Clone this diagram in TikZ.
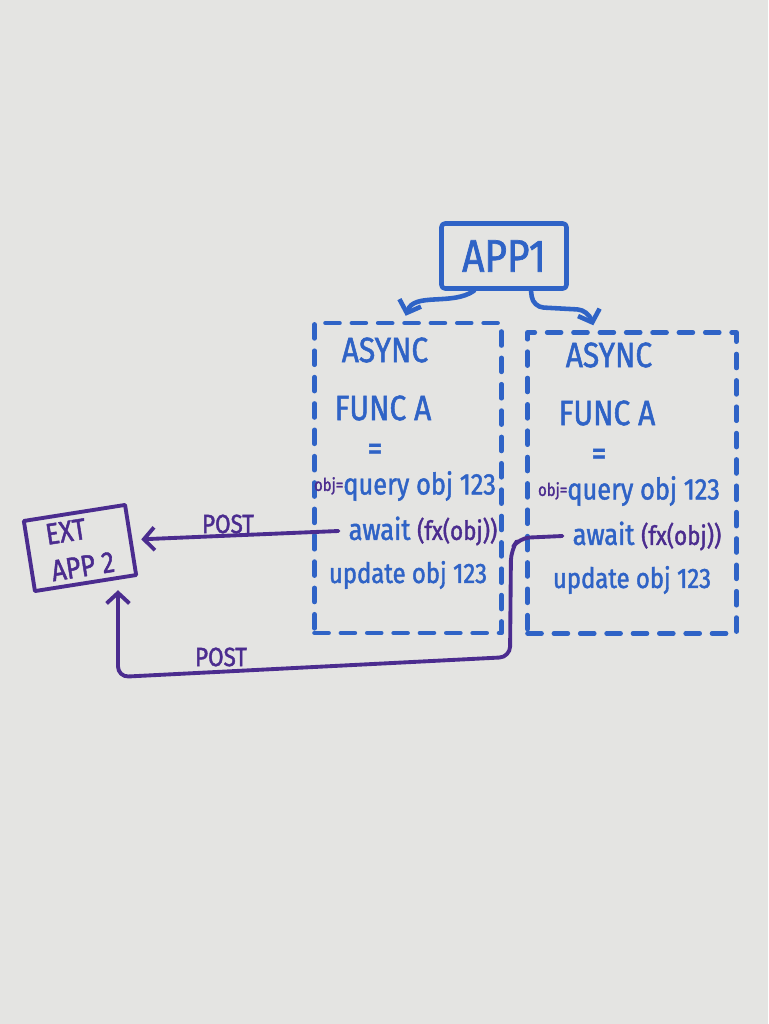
\documentclass[tikz,border=0pt]{standalone}
\usepackage{fontspec}
\setmainfont{Fira Sans}[FakeStretch=0.85, FakeBold=1.5]
\usetikzlibrary{positioning,arrows.meta}
\definecolor{board}{HTML}{E4E4E2}
\definecolor{bluemark}{HTML}{2F63C6}
\definecolor{purplemark}{HTML}{4B2C8F}
\tikzset{
	bluepen/.style={draw=bluemark, line width=2.6pt, line cap=round, line join=round},
	purplepen/.style={draw=purplemark, line width=2.2pt, line cap=round, line join=round},
	funcbox/.style={bluepen, dash pattern=on 8pt off 7pt},
	bluetext/.style={text=bluemark, inner sep=0pt},
	purpletext/.style={text=purplemark, inner sep=0pt},
	barb/.style={-{Straight Barb[length=6pt,width=13pt]}},
}
\begin{document}
\begin{tikzpicture}[x=0.02cm, y=-0.02cm]
			\useasboundingbox[fill=board] (0,0) rectangle (768,1024);
			%
			\node (app) [bluepen, draw, rounded corners=2pt, minimum width=2.5cm, minimum height=1.3cm] at (504,256) {};
			\node (applbl) [bluetext, font=\fontsize{26}{28}\selectfont] at (app) {APP1};
			\foreach \k/\x/\y/\w/\h in {1/408/478/3.74/6.2, 2/632/483/4.18/6.02}{
					\node (fa\k) [funcbox, minimum width=\w cm, minimum height=\h cm] at (\x,\y) {};
					\node (async\k) [bluetext, font=\fontsize{20}{22}\selectfont] at (\x-23,\y-128) {ASYNC};
					\node (func\k) [bluetext, font=\fontsize{20}{22}\selectfont] at (\x-25,\y-70) {FUNC A};
					\node (eq\k) [bluetext, font=\fontsize{20}{22}\selectfont] at (\x-33,\y-26) {=};
					\node (query\k) [bluetext, font=\fontsize{17}{18}\selectfont] at (\x-3,\y+8)
						{\raisebox{0.12em}{\textcolor{purplemark}{\fontsize{10}{11}\selectfont obj=}}query obj 123};
					\node (await\k) [bluetext, font=\fontsize{17}{18}\selectfont] at (\x+15,\y+53)
						{await \textcolor{purplemark}{\fontsize{15}{16}\selectfont(fx(obj))}};
					\node (update\k) [bluetext, font=\fontsize{16}{18}\selectfont] at (\x,\y+97) {update obj 123};
				}
			\draw [bluepen, barb, shorten >=3pt] (app.south -| 474,0) .. controls (452,306) and (414,292) .. (fa1.north -| 404,0);
			\draw [bluepen, barb, rounded corners=6pt, shorten >=3pt] (app.south -| 531,0) -- (533,307) -- (588,310) -- (fa2.north -| 595,0);
			%
			\node (ext) [purplepen, draw, rotate=9, minimum width=2.05cm, minimum height=1.42cm, text=purplemark, align=left, font=\fontsize{17}{21}\selectfont] at (80,548) {EXT\\APP 2};
			\coordinate (out1) at ([xshift=-0.2cm]await1.west);
			\coordinate (out2) at ([xshift=-0.2cm]await2.west);
			\coordinate (ret) at (118,677);
			\draw [purplepen, barb, shorten >=5pt] (out1) -- (ext.east);
			\draw [purplepen, barb, rounded corners=6pt, shorten >=3pt] (out2) -- (519,538) -- (511,550) -- (510,657) -- (ret) -- (ret |- ext.south);
			\node (post1) [purpletext, font=\fontsize{15}{16}\selectfont] at (228,524) {POST};
			\node (post2) [purpletext, font=\fontsize{15}{16}\selectfont] at (221,657) {POST};
		\end{tikzpicture}
\end{document}
